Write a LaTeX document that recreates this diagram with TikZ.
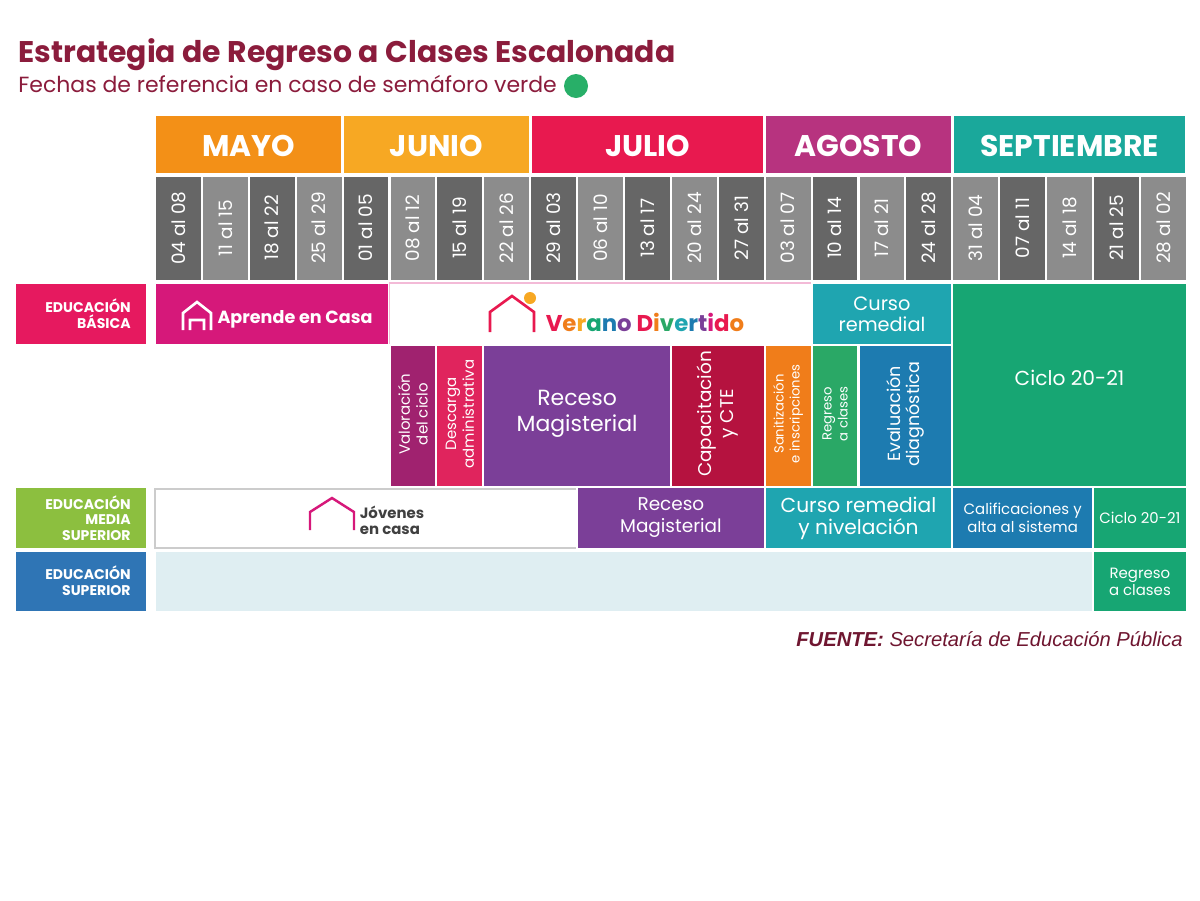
\documentclass[tikz,border=0pt]{standalone}
\usepackage{fontspec}
\setmainfont{Poppins}
\newfontfamily\footfont{Liberation Sans}
\usetikzlibrary{calc}
\definecolor{titlec}{HTML}{8B1C3C}
\definecolor{cmayo}{HTML}{F39017}
\definecolor{cjunio}{HTML}{F7A823}
\definecolor{cjulio}{HTML}{E8194F}
\definecolor{cagosto}{HTML}{B7337F}
\definecolor{csept}{HTML}{1AA89B}
\definecolor{wdark}{HTML}{666666}
\definecolor{wlight}{HTML}{8C8C8C}
\definecolor{cmag}{HTML}{D6187A}
\definecolor{cteal}{HTML}{1FA5B0}
\definecolor{cgreen}{HTML}{17A673}
\definecolor{cvalor}{HTML}{A0226F}
\definecolor{cdesc}{HTML}{E0245D}
\definecolor{cpurple}{HTML}{7B3F98}
\definecolor{ccap}{HTML}{B5123F}
\definecolor{corange}{HTML}{F07D1A}
\definecolor{cregreso}{HTML}{2AA866}
\definecolor{cblue}{HTML}{1D7BB0}
\definecolor{clight}{HTML}{DFEEF2}
\definecolor{lbasica}{HTML}{E6195F}
\definecolor{lmedia}{HTML}{8CBF3F}
\definecolor{lsup}{HTML}{2F75B5}
\tikzset{
  cell/.style={draw=white,line width=1.2pt},
  celltext/.style={text=white,align=center,font=\fontsize{10}{11}\selectfont},
  monthtext/.style={text=white,font=\fontsize{17}{18}\selectfont\bfseries},
  weektext/.style={text=white,rotate=90,font=\fontsize{10.5}{11}\selectfont},
  rowlabel/.style={text=white,align=right,font=\fontsize{8}{9}\selectfont\bfseries},
}
\newcommand\wx[1]{155+(#1)*46.9}
\begin{document}
\begin{tikzpicture}[x=0.02cm,y=-0.02cm]
\useasboundingbox[fill=white] (0,0) rectangle (1200,900);
\node[anchor=base west,text=titlec,font=\fontsize{17}{18}\selectfont\bfseries,inner sep=0] (title) at (18,62) {Estrategia de Regreso a Clases Escalonada};
\node[anchor=base west,text=titlec,font=\fontsize{12.5}{14}\selectfont,inner sep=0] (sub) at (18,92) {Fechas de referencia en caso de semáforo verde};
\fill[cgreen!90!lime] (576,86) circle (12);
% months
\foreach \a/\b/\c/\t/\n in {0/4/cmayo/MAYO/m1,4/8/cjunio/JUNIO/m2,8/13/cjulio/JULIO/m3,13/17/cagosto/AGOSTO/m4,17/22/csept/SEPTIEMBRE/m5}{
  \path[fill=\c,draw=white,line width=1.6pt] ({\wx{\a}},115) rectangle ({\wx{\b}},174);
  \node[monthtext] (\n) at ({(\wx{\a}+\wx{\b})/2},146) {\t};
}
% weeks
\foreach \d [count=\i from 0] in {04 al 08,11 al 15,18 al 22,25 al 29,01 al 05,08 al 12,15 al 19,22 al 26,29 al 03,06 al 10,13 al 17,20 al 24,27 al 31,03 al 07,10 al 14,17 al 21,24 al 28,31 al 04,07 al 11,14 al 18,21 al 25,28 al 02}{
  \ifodd\i \def\wc{wlight}\else\def\wc{wdark}\fi
  \path[cell,fill=\wc] ({\wx{\i}},176) rectangle ({\wx{\i+1}},281);
  \node[weektext] (w\i) at ({\wx{\i}+23.45},228) {\d};
}
% row labels
\path[cell,fill=lbasica] (15,283) rectangle (147,345);
\node[rowlabel] (lb) at (88,314) {EDUCACIÓN\\BÁSICA};
\path[cell,fill=lmedia] (15,487) rectangle (147,549);
\node[rowlabel] (lm) at (88,518) {EDUCACIÓN\\MEDIA\\SUPERIOR};
\path[cell,fill=lsup] (15,551) rectangle (147,612);
\node[rowlabel] (ls) at (88,581) {EDUCACIÓN\\SUPERIOR};
% básica row
\path[cell,fill=cmag] ({\wx{0}},283) rectangle ({\wx{5}},345);
\node[text=white,font=\fontsize{10}{12}\selectfont\bfseries] (aprende) at (295,319) {Aprende en Casa};
\draw[white,line width=1.5pt] (183,330) -- (183,313) -- (197,302) -- (211,313) -- (211,330) (190,330)--(190,320)--(204,320)--(204,330);
\path[draw=cmag!30,line width=0.6pt,fill=white] ({\wx{5}},283) rectangle ({\wx{14}},345);
\node[font=\fontsize{13}{14}\selectfont\bfseries] (verano) at (645,322) {\textcolor{cjulio}{V}\textcolor{corange}{e}\textcolor{cjunio}{r}\textcolor{cgreen}{a}\textcolor{cblue}{n}\textcolor{cpurple}{o} \textcolor{cjulio}{D}\textcolor{corange}{i}\textcolor{cregreso}{v}\textcolor{cteal}{e}\textcolor{cblue}{r}\textcolor{cpurple}{t}\textcolor{cmag}{i}\textcolor{cjulio}{d}\textcolor{corange}{o}};
\draw[cjulio,line width=1.5pt] (490,332) -- (490,312) -- (512,296) -- (534,312) -- (534,332);
\fill[cjunio] (530,298) circle (6);
\path[cell,fill=cteal] ({\wx{14}},283) rectangle ({\wx{17}},345);
\node[celltext,font=\fontsize{11}{12}\selectfont] (curso) at ({(\wx{14}+\wx{17})/2},314) {Curso\\remedial};
\path[cell,fill=cgreen] ({\wx{17}},283) rectangle ({\wx{22}},487);
\node[celltext,font=\fontsize{11.5}{12}\selectfont] (ciclo) at ({(\wx{17}+\wx{22})/2},378) {Ciclo 20-21};
% middle row
\path[cell,fill=cvalor] ({\wx{5}},345) rectangle ({\wx{6}},487);
\node[celltext,rotate=90,font=\fontsize{8.5}{10}\selectfont] (valor) at ({\wx{5}+23.45},414) {Valoración\\del ciclo};
\path[cell,fill=cdesc] ({\wx{6}},345) rectangle ({\wx{7}},487);
\node[celltext,rotate=90,font=\fontsize{8.5}{10}\selectfont] (desc) at ({\wx{6}+23.45},414) {Descarga\\administrativa};
\path[cell,fill=cpurple] ({\wx{7}},345) rectangle ({\wx{11}},487);
\node[celltext,font=\fontsize{12.5}{15}\selectfont] (receso) at ({(\wx{7}+\wx{11})/2},414) {Receso\\Magisterial};
\path[cell,fill=ccap] ({\wx{11}},345) rectangle ({\wx{13}},487);
\node[celltext,rotate=90,font=\fontsize{10.5}{12.5}\selectfont] (cap) at ({(\wx{11}+\wx{13})/2},414) {Capacitación\\y CTE};
\path[cell,fill=corange] ({\wx{13}},345) rectangle ({\wx{14}},487);
\node[celltext,rotate=90,font=\fontsize{7.5}{9}\selectfont] (sanit) at ({\wx{13}+23.45},414) {Sanitización\\e inscripciones};
\path[cell,fill=cregreso] ({\wx{14}},345) rectangle ({\wx{15}},487);
\node[celltext,rotate=90,font=\fontsize{7.5}{9}\selectfont] (regb) at ({\wx{14}+23.45},414) {Regreso\\a clases};
\path[cell,fill=cblue] ({\wx{15}},345) rectangle ({\wx{17}},487);
\node[celltext,rotate=90,font=\fontsize{10}{11}\selectfont] (eval) at ({(\wx{15}+\wx{17})/2},414) {Evaluación\\diagnóstica};
% media superior
\path[draw=gray!40,line width=0.6pt,fill=white] ({\wx{0}},489) rectangle ({\wx{9}},548);
\node[text=black!75,align=left,font=\fontsize{8.5}{9}\selectfont\bfseries] (jovenes) at (392,520) {Jóvenes\\en casa};
\draw[cmag,line width=1.4pt] (310,530) -- (310,512) -- (332,498) -- (354,512) -- (354,530);
\path[cell,fill=cpurple] ({\wx{9}},487) rectangle ({\wx{13}},549);
\node[celltext,font=\fontsize{10.5}{12.5}\selectfont] (recm) at ({(\wx{9}+\wx{13})/2},518) {Receso\\Magisterial};
\path[cell,fill=cteal] ({\wx{13}},487) rectangle ({\wx{17}},549);
\node[celltext,font=\fontsize{11.5}{12.5}\selectfont] (curm) at ({(\wx{13}+\wx{17})/2},518) {Curso remedial\\y nivelación};
\path[cell,fill=cblue] ({\wx{17}},487) rectangle ({\wx{20}},549);
\node[celltext,font=\fontsize{8.5}{10}\selectfont] (calif) at ({(\wx{17}+\wx{20})/2},518) {Calificaciones y\\alta al sistema};
\path[cell,fill=cgreen] ({\wx{20}},487) rectangle ({\wx{22}},549);
\node[celltext,font=\fontsize{8.5}{10}\selectfont] (ciclom) at ({(\wx{20}+\wx{22})/2},518) {Ciclo 20-21};
% superior
\path[cell,fill=clight] ({\wx{0}},551) rectangle ({\wx{20}},612);
\path[cell,fill=cgreen] ({\wx{20}},551) rectangle ({\wx{22}},612);
\node[celltext,font=\fontsize{8.5}{10}\selectfont] (regs) at ({(\wx{20}+\wx{22})/2},582) {Regreso\\a clases};
% source
\node[anchor=base east,text=titlec!80!black,font=\footfont\itshape\fontsize{11.5}{13}\selectfont,inner sep=0] (fuente) at (1183,646) {\textbf{FUENTE:} Secretaría de Educación Pública};
\end{tikzpicture}
\end{document}
